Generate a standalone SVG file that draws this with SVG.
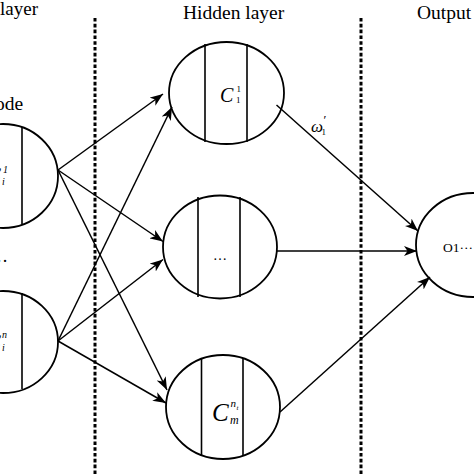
<svg xmlns="http://www.w3.org/2000/svg" width="474" height="474" viewBox="0 0 474 474">
<style>
.t{font-family:"Liberation Serif","Times New Roman",serif;fill:#000}
.i{font-style:italic}
.n{fill:#fff;stroke:#000;stroke-width:1.8}
.v{stroke:#000;stroke-width:1.6}
.c{stroke:#000;stroke-width:1.5;fill:none;marker-end:url(#ah)}
.d{stroke:#000;stroke-width:3;stroke-dasharray:3.6 2.2}
</style>
<defs>
<marker id="ah" markerUnits="userSpaceOnUse" markerWidth="14" markerHeight="10" refX="13" refY="5" orient="auto">
<path d="M0,0 L13,5 L0,10 L3.5,5 z" fill="#000"/>
</marker>
</defs>
<rect width="474" height="474" fill="#fff"/>
<g id="labels">
<text class="t" x="0" y="15" font-size="19">layer</text>
<text class="t" x="183" y="19" font-size="19.5">Hidden layer</text>
<text class="t" x="417" y="19" font-size="19.5">Output</text>
<text class="t" x="-5" y="110" font-size="19.5">ode</text>
<text class="t" x="-10" y="262" font-size="18">…</text>
</g>
<g id="separators">
<line class="d" x1="95" y1="18" x2="95" y2="474"/>
<line class="d" x1="361" y1="18" x2="361" y2="474"/>
</g>
<g id="input1">
<ellipse class="n" cx="3" cy="176" rx="55" ry="52"/>
<line class="v" x1="22" y1="127" x2="22" y2="224"/>
<text class="t i" x="-12" y="181" font-size="19">C</text>
<text class="t i" x="3" y="173" font-size="10">1</text>
<text class="t i" x="2" y="185" font-size="10">i</text>
</g>
<g id="input2">
<ellipse class="n" cx="3" cy="342" rx="55" ry="51"/>
<line class="v" x1="22" y1="293" x2="22" y2="389"/>
<text class="t i" x="-12" y="348" font-size="19">C</text>
<text class="t i" x="2" y="338" font-size="10">n</text>
<text class="t i" x="2" y="351" font-size="10">i</text>
</g>
<g id="hidden1">
<ellipse class="n" cx="226.5" cy="93" rx="57.5" ry="51"/>
<line class="v" x1="205" y1="44" x2="205" y2="142"/>
<line class="v" x1="247" y1="44" x2="247" y2="142"/>
<text class="t i" x="220" y="102" font-size="20">C</text>
<text class="t" x="236.5" y="92" font-size="9">1</text>
<text class="t" x="236" y="103" font-size="9">1</text>
</g>
<g id="hidden2">
<ellipse class="n" cx="220" cy="247" rx="57" ry="51.5"/>
<line class="v" x1="198" y1="197" x2="198" y2="297"/>
<line class="v" x1="240" y1="197" x2="240" y2="297"/>
<text class="t" x="213" y="260" font-size="14">…</text>
</g>
<g id="hidden3">
<ellipse class="n" cx="223" cy="407" rx="57" ry="52"/>
<line class="v" x1="201.5" y1="358" x2="201.5" y2="456"/>
<line class="v" x1="243" y1="358" x2="243" y2="456"/>
<text class="t i" x="212" y="421" font-size="25">C</text>
<text class="t i" x="230.5" y="407" font-size="11">n</text>
<text class="t i" x="236.5" y="410" font-size="7">t</text>
<text class="t i" x="230" y="424" font-size="12">m</text>
</g>
<g id="output">
<ellipse class="n" cx="473" cy="245" rx="57" ry="52"/>
<text class="t" x="443" y="252" font-size="13.5">O1···</text>
</g>
<g id="connectors">
<line class="c" x1="58" y1="170" x2="163" y2="94"/>
<line class="c" x1="58" y1="170" x2="163" y2="241.5"/>
<line class="c" x1="58" y1="170" x2="167" y2="390"/>
<line class="c" x1="58" y1="341" x2="172" y2="107"/>
<line class="c" x1="58" y1="341" x2="163" y2="259.5"/>
<line class="c" x1="58" y1="341" x2="166" y2="403"/>
<line class="c" x1="276.5" y1="105" x2="418" y2="231"/>
<line class="c" x1="277" y1="251" x2="417" y2="251"/>
<line class="c" x1="280" y1="412" x2="430" y2="277"/>
<text class="t i" x="311" y="132" font-size="17">ω</text>
<text class="t" x="321.5" y="135" font-size="9">1</text>
<text class="t" x="323.5" y="124" font-size="13">′</text>
</g>
</svg>
